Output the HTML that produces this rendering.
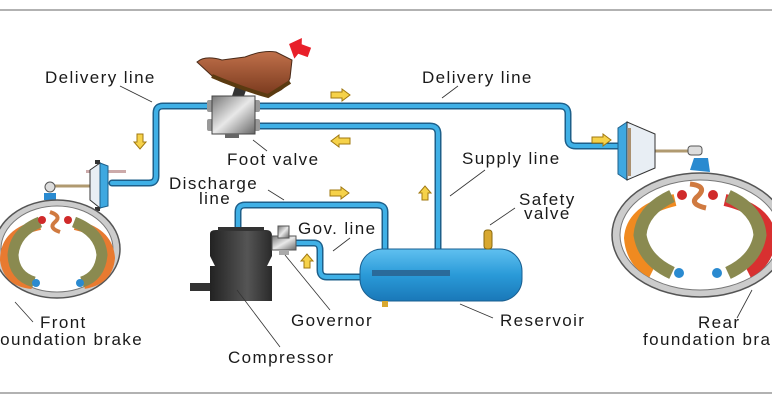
<!DOCTYPE html>
<html><head><meta charset="utf-8"><style>
html,body{margin:0;padding:0;background:#fff;}
svg{display:block}
text{font-family:"Liberation Sans",Arial,sans-serif;font-size:17px;letter-spacing:1.4px;fill:#1a1a1a}
</style></head><body>
<svg width="772" height="405" viewBox="0 0 772 405" xmlns="http://www.w3.org/2000/svg">
<defs>
<linearGradient id="tank" x1="0" y1="0" x2="0" y2="1">
<stop offset="0" stop-color="#5fc0f0"/><stop offset="0.5" stop-color="#2a9ad8"/><stop offset="1" stop-color="#1a78b8"/></linearGradient>
<linearGradient id="steel" x1="0" y1="0" x2="1" y2="1">
<stop offset="0" stop-color="#777"/><stop offset="0.5" stop-color="#e8e8e8"/><stop offset="1" stop-color="#666"/></linearGradient>
<linearGradient id="dark" x1="0" y1="0" x2="1" y2="0">
<stop offset="0" stop-color="#222"/><stop offset="0.6" stop-color="#555"/><stop offset="1" stop-color="#2a2a2a"/></linearGradient>
<linearGradient id="boot" x1="0" y1="0" x2="0" y2="1">
<stop offset="0" stop-color="#c0704a"/><stop offset="1" stop-color="#7a3a1e"/></linearGradient>
</defs>
<line x1="0" y1="10" x2="772" y2="10" stroke="#999" stroke-width="1.5"/>
<line x1="0" y1="393" x2="772" y2="393" stroke="#999" stroke-width="1.5"/>

<g fill="none" stroke-linejoin="round" stroke-linecap="round">
<g stroke="#1d5f8a" stroke-width="7">
<path d="M212 106 H163 Q156 106 156 113 V176 Q156 183 149 183 H112"/>
<path d="M258 106 H560 Q568 106 568 114 V139 Q568 146 576 146 H618"/>
<path d="M258 126 H430 Q438 126 438 134 V250"/>
<path d="M238 236 V212 Q238 205 245 205 H377 Q385 205 385 212 V252"/>
<path d="M294 243 H314 Q320 243 320 250 V270 Q320 277 327 277 H362"/>
</g>
<g stroke="#3fb0e6" stroke-width="4">
<path d="M212 106 H163 Q156 106 156 113 V176 Q156 183 149 183 H112"/>
<path d="M258 106 H560 Q568 106 568 114 V139 Q568 146 576 146 H618"/>
<path d="M258 126 H430 Q438 126 438 134 V250"/>
<path d="M238 236 V212 Q238 205 245 205 H377 Q385 205 385 212 V252"/>
<path d="M294 243 H314 Q320 243 320 250 V270 Q320 277 327 277 H362"/>
</g>
</g>

<path d="M232 96 L244 60 L256 62 L244 96Z" fill="#333"/>
<rect x="207" y="100" width="6" height="12" rx="2" fill="#999"/>
<rect x="207" y="119" width="6" height="12" rx="2" fill="#999"/>
<rect x="254" y="100" width="6" height="12" rx="2" fill="#999"/>
<rect x="254" y="119" width="6" height="12" rx="2" fill="#999"/>
<rect x="212" y="96" width="43" height="38" fill="url(#steel)" stroke="#444"/>
<rect x="225" y="134" width="14" height="4" fill="#666"/>
<path d="M197 62 Q205 55 222 60 L245 57 Q262 50 276 52 L292 60 L290 78 Q285 93 265 95 L240 86 Q220 84 210 74 Z" fill="url(#boot)" stroke="#4a2a18"/>
<path d="M212 76 Q240 88 268 96 L290 82" fill="none" stroke="#5a3a10" stroke-width="4"/>
<path d="M288 48 L298 38 L300 44 L310 44 L310 54 L300 54 L298 60Z" fill="#e8202a" transform="rotate(20 300 49)"/>

<rect x="86" y="170" width="40" height="3" fill="#caa"/>
<line x1="50" y1="186" x2="92" y2="186" stroke="#b09a70" stroke-width="3"/>
<path d="M90 170 L100 163 L100 208 L90 200Z" fill="#e8eef4" stroke="#333"/>
<path d="M100 163 L108 166 L108 206 L100 208Z" fill="#3fa8e0" stroke="#1d5f8a"/>
<rect x="95" y="160" width="5" height="4" fill="#333"/><rect x="95" y="207" width="5" height="4" fill="#333"/>
<path d="M44 200 L44 193 L56 193 L56 200 Z" fill="#2a8ad0"/>
<circle cx="50" cy="187" r="5" fill="#ddd" stroke="#555"/>

<g>
<ellipse cx="57" cy="249" rx="63" ry="49" fill="#ccc" stroke="#555" stroke-width="1.5"/>
<ellipse cx="57" cy="249" rx="56" ry="43" fill="#fff" stroke="#777"/>
<path d="M40 225 Q5 232 5 260 Q8 282 32 284" fill="none" stroke="#e87a30" stroke-width="10"/>
<path d="M75 225 Q108 232 110 258 Q108 280 84 284" fill="none" stroke="#e87a30" stroke-width="10"/>
<path d="M40 222 Q15 232 13 255 Q14 276 34 282" fill="none" stroke="#8a8a50" stroke-width="11"/>
<path d="M74 222 Q100 232 102 255 Q100 276 82 282" fill="none" stroke="#8a8a50" stroke-width="11"/>
<circle cx="36" cy="283" r="4" fill="#2a8ad0"/><circle cx="80" cy="283" r="4" fill="#2a8ad0"/>
<circle cx="42" cy="220" r="4" fill="#d02a2a"/><circle cx="68" cy="220" r="4" fill="#d02a2a"/>
<path d="M50 212 Q62 216 55 222 Q48 228 60 232" fill="none" stroke="#d07a40" stroke-width="4"/>
</g>

<line x1="650" y1="151" x2="700" y2="151" stroke="#b09a70" stroke-width="3"/>
<path d="M618 128 L627 122 L627 180 L618 174Z" fill="#3fa8e0" stroke="#1d5f8a"/>
<path d="M627 122 L655 134 L655 168 L627 180Z" fill="#e8eef4" stroke="#333"/>
<rect x="628" y="128" width="3" height="48" fill="#aa9070"/>
<path d="M690 170 L694 158 L708 158 L710 172Z" fill="#2a8ad0"/>
<rect x="688" y="146" width="14" height="9" rx="3" fill="#ddd" stroke="#555"/>

<g>
<ellipse cx="700" cy="235" rx="88" ry="62" fill="#ccc" stroke="#555" stroke-width="1.5"/>
<ellipse cx="700" cy="235" rx="80" ry="55" fill="#fff" stroke="#777"/>
<path d="M675 200 Q632 210 630 238 Q632 262 652 272" fill="none" stroke="#f08a20" stroke-width="12"/>
<path d="M725 200 Q768 210 770 238 Q768 262 748 272" fill="none" stroke="#d83030" stroke-width="12"/>
<path d="M672 196 Q642 210 640 235 Q644 260 672 273" fill="none" stroke="#8a8a50" stroke-width="13"/>
<path d="M728 196 Q758 210 760 235 Q756 260 728 273" fill="none" stroke="#8a8a50" stroke-width="13"/>
<circle cx="679" cy="273" r="5" fill="#2a8ad0"/><circle cx="717" cy="273" r="5" fill="#2a8ad0"/>
<circle cx="682" cy="195" r="5" fill="#d02a2a"/><circle cx="713" cy="195" r="5" fill="#d02a2a"/>
<path d="M690 184 Q708 186 698 196 Q688 204 706 208" fill="none" stroke="#d07a40" stroke-width="5"/>
</g>

<rect x="360" y="249" width="162" height="52" rx="22" fill="url(#tank)" stroke="#1a5f90"/>
<rect x="372" y="270" width="78" height="6" fill="#2a6a9a"/>
<rect x="484" y="230" width="8" height="19" rx="3" fill="#d8a830" stroke="#8a6a10"/>
<rect x="382" y="301" width="6" height="6" fill="#d8a830"/>

<rect x="190" y="283" width="20" height="8" fill="#333"/>
<rect x="210" y="266" width="62" height="35" fill="url(#dark)"/>
<path d="M210 234 Q210 230 216 230 H266 Q272 230 272 236 V256 L266 268 H216 L210 256Z" fill="url(#dark)"/>
<rect x="218" y="227" width="46" height="4" fill="#333"/>
<rect x="272" y="236" width="24" height="14" fill="url(#steel)" stroke="#555"/>
<rect x="278" y="226" width="11" height="12" fill="url(#steel)" stroke="#555"/>
<rect x="279" y="250" width="10" height="5" fill="#aaa"/>

<g fill="#f6d24a" stroke="#a07810" stroke-width="1">
<path d="M331 92 H342 V89 L350 95 L342 101 V98 H331Z"/>
<path d="M350 138 H339 V135 L331 141 L339 147 V144 H350Z"/>
<path d="M330 190 H341 V187 L349 193 L341 199 V196 H330Z"/>
<path d="M592 137 H603 V134 L611 140 L603 146 V143 H592Z"/>
<path d="M137 134 V142 H134 L140 149 L146 142 H143 V134Z"/>
<path d="M422 200 V193 H419 L425 186 L431 193 H428 V200Z"/>
<path d="M304 268 V261 H301 L307 254 L313 261 H310 V268Z"/>
</g>

<g stroke="#333" stroke-width="0.8">
<line x1="120" y1="86" x2="152" y2="102"/>
<line x1="253" y1="140" x2="267" y2="151"/>
<line x1="268" y1="190" x2="284" y2="200"/>
<line x1="350" y1="238" x2="333" y2="251"/>
<line x1="285" y1="255" x2="330" y2="310"/>
<line x1="237" y1="290" x2="280" y2="347"/>
<line x1="15" y1="302" x2="33" y2="322"/>
<line x1="458" y1="86" x2="442" y2="98"/>
<line x1="485" y1="170" x2="450" y2="196"/>
<line x1="515" y1="208" x2="490" y2="225"/>
<line x1="460" y1="304" x2="493" y2="318"/>
<line x1="752" y1="290" x2="737" y2="318"/>
</g>

<text x="45" y="83">Delivery line</text>
<text x="227" y="165">Foot valve</text>
<text x="169" y="189">Discharge</text>
<text x="199" y="204">line</text>
<text x="298" y="234">Gov. line</text>
<text x="40" y="328">Front</text>
<text x="-6" y="345">foundation brake</text>
<text x="291" y="326">Governor</text>
<text x="228" y="363">Compressor</text>
<text x="422" y="83">Delivery line</text>
<text x="462" y="164">Supply line</text>
<text x="519" y="205">Safety</text>
<text x="524" y="219">valve</text>
<text x="500" y="326">Reservoir</text>
<text x="698" y="328">Rear</text>
<text x="643" y="345">foundation brake</text>
</svg>
</body></html>
